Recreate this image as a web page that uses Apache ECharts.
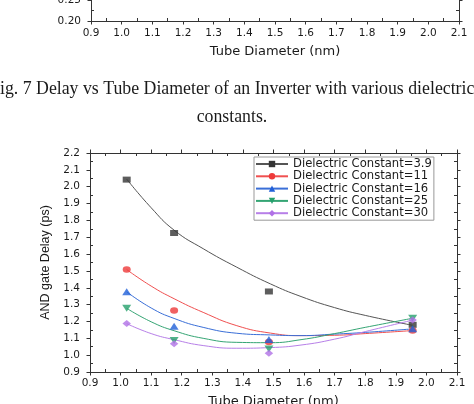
<!DOCTYPE html>
<html><head><meta charset="utf-8">
<script src="https://cdn.jsdelivr.net/npm/echarts@6/dist/echarts.min.js"></script>
<style>html,body{margin:0;padding:0;background:#fff}#c{width:474px;height:404px}</style>
</head><body><div id="c"></div>
<script>
// ---- data ----
const seriesNames = ['Dielectric Constant=3.9','Dielectric Constant=11','Dielectric Constant=16','Dielectric Constant=25','Dielectric Constant=30'];
// measured points
const pointX = [1.02, 1.175, 1.485, 1.955];
const pts39 = [2.042, 1.725, 1.378, 1.180];
const pts11 = [1.508, 1.265, 1.078, 1.146];
const pts16 = [1.376, 1.171, 1.093, 1.156];
const pts25 = [1.278, 1.087, 1.037, 1.219];
const pts30 = [1.188, 1.067, 1.011, 1.208];
// fitted curves
const curveX = [1.02, 1.10, 1.175, 1.27, 1.38, 1.49, 1.59, 1.70, 1.80, 1.955];
const fit39 = [2.045, 1.875, 1.742, 1.632, 1.522, 1.423, 1.348, 1.282, 1.236, 1.177];
const fit11 = [1.508, 1.410, 1.335, 1.254, 1.175, 1.131, 1.116, 1.118, 1.128, 1.146];
const fit16 = [1.376, 1.280, 1.218, 1.165, 1.130, 1.120, 1.116, 1.125, 1.135, 1.156];
const fit25 = [1.278, 1.198, 1.145, 1.100, 1.076, 1.074, 1.092, 1.128, 1.165, 1.219];
const fit30 = [1.187, 1.128, 1.092, 1.057, 1.041, 1.045, 1.060, 1.095, 1.140, 1.208];
// axis ticks
const xMin = 0.9, xMax = 2.1, xStep = 0.1;
const yMin = 0.9, yMax = 2.2, yStep = 0.1;
const topYMin = 0.20, topYMax = 0.25, topYStep = 0.05;
const captionLine1 = 'ig. 7 Delay vs Tube Diameter of an Inverter with various dielectric';
const captionLine2 = 'constants.';
const xTitle = 'Tube Diameter (nm)';
const yTitle = 'AND gate Delay (ps)';

// ---- styles ----
const colors = ['#353535', '#ee3a3a', '#2160d8', '#25a06c', '#b070e6'];
const lineColors = ['#555555', '#f05050', '#3a6fd8', '#35a574', '#b77fe8'];
const symbols = ['rect', 'circle', 'triangle', 'triangle', 'diamond'];
const rotates = [0, 0, 0, 180, 0];
const sizes = [[8,6],[8,6.5],[9,7],[9,7],[8.5,7]];
const pointsAll = [pts39, pts11, pts16, pts25, pts30];
const fitsAll = [fit39, fit11, fit16, fit25, fit30];
const F = 'DejaVu Sans';
const lineStyle = {color:'#333', width:1};

function xAx(grid, pos, labels, name, gap, margin) {
  return {
    gridIndex: grid, type:'value', position: pos, min:xMin, max:xMax, interval:xStep,
    axisLine:{show:true, onZero:false, lineStyle},
    axisTick:{show:true, inside:false, length:3.5, lineStyle},
    minorTick:{show:true, splitNumber:2, length:-3, lineStyle},
    splitLine:{show:false},
    axisLabel:{show:labels, formatter:v=>v.toFixed(1), fontFamily:F, fontSize:10.5, color:'#1a1a1a', margin:margin},
    name: name, nameLocation:'middle', nameGap:gap,
    nameTextStyle:{fontFamily:F, fontSize:13, color:'#1a1a1a'}
  };
}
function yAx(grid, pos, labels, mn, mx, step, dec, name) {
  return {
    gridIndex: grid, type:'value', position: pos, min:mn, max:mx, interval:step,
    axisLine:{show:true, onZero:false, lineStyle},
    axisTick:{show:true, inside:false, length:3.5, lineStyle},
    minorTick:{show:true, splitNumber:2, length:-3, lineStyle},
    splitLine:{show:false},
    axisLabel:{show:labels, formatter:v=>v.toFixed(dec), fontFamily:F, fontSize:10.5, color:'#1a1a1a', margin:10},
    name: name, nameLocation:'middle', nameGap:31,
    nameTextStyle:{fontFamily:'Liberation Sans', fontSize:12.5, color:'#1a1a1a'}
  };
}

const series = [];
seriesNames.forEach((n, i) => {
  series.push({
    name:n, type:'line', xAxisIndex:0, yAxisIndex:0, smooth:0.5, showSymbol:false,
    symbol:symbols[i], symbolRotate:rotates[i], symbolSize:sizes[i],
    itemStyle:{color:colors[i]}, lineStyle:{color:lineColors[i], width:1},
    data: curveX.map((x, k) => [x, fitsAll[i][k]]), z:2, silent:true
  });
});
seriesNames.forEach((n, i) => {
  series.push({
    name:n, type:'scatter', xAxisIndex:0, yAxisIndex:0,
    symbol:symbols[i], symbolRotate:rotates[i], symbolSize:sizes[i],
    itemStyle:{color:colors[i]},
    data: pointX.map((x, k) => [x, pointsAll[i][k]]), z:3
  });
});

const chart = echarts.init(document.getElementById('c'));
chart.setOption({
  animation:false,
  backgroundColor:'#fff',
  grid:[
    {left:90, right:17, top:153, bottom:32, containLabel:false, outerBoundsMode:'none'},
    {left:91, right:15, top:0, bottom:383, containLabel:false, outerBoundsMode:'none'}
  ],
  xAxis:[
    xAx(0, 'bottom', true, xTitle, 23, 6),
    xAx(0, 'top', false, '', 0, 6),
    xAx(1, 'bottom', true, xTitle, 24, 7)
  ],
  yAxis:[
    yAx(0, 'left', true, yMin, yMax, yStep, 1, yTitle),
    yAx(0, 'right', false, yMin, yMax, yStep, 1, ''),
    yAx(1, 'left', true, topYMin, topYMax, topYStep, 2, ''),
    yAx(1, 'right', false, topYMin, topYMax, topYStep, 2, '')
  ],
  legend:{
    data: seriesNames, orient:'vertical', left:254, top:157,
    itemWidth:32, itemHeight:8, itemGap:0.3, padding:[1,2,1,1],
    borderColor:'#999', borderWidth:1, backgroundColor:'#fff',
    textStyle:{fontFamily:F, fontSize:11.6, color:'#1a1a1a', lineHeight:12}
  },
  graphic:[
    {type:'text', x:0, y:89,
     style:{text:captionLine1, font:'17.8px "Liberation Serif"', fill:'#1a1a1a', align:'left', verticalAlign:'middle'}},
    {type:'text', x:232, y:117,
     style:{text:captionLine2, font:'17.8px "Liberation Serif"', fill:'#1a1a1a', align:'center', verticalAlign:'middle'}}
  ],
  series: series
});
</script>
</body></html>
